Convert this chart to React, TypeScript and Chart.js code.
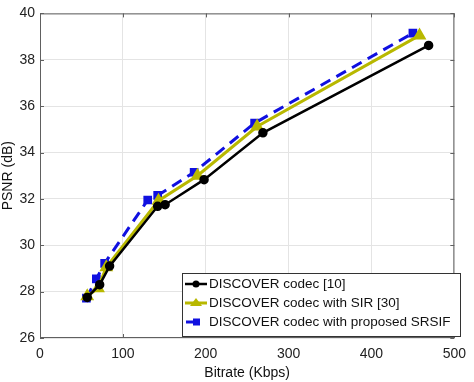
import React, { useEffect, useRef } from "react";
import { Chart, registerables } from "chart.js";

Chart.register(...registerables);

const xTicks = [0, 100, 200, 300, 400, 500];
const yTicks = [26, 28, 30, 32, 34, 36, 38, 40];

const discoverX = [57, 72, 84, 142, 151, 198, 269, 469];
const discoverY = [27.75, 28.3, 29.1, 31.68, 31.75, 32.83, 34.85, 38.62];

const sirX = [57, 70, 80, 143, 190, 262, 458];
const sirY = [27.8, 28.15, 29.05, 31.92, 33.0, 35.12, 39.05];

const srsifX = [56, 68, 78, 130, 142, 186, 259, 450];
const srsifY = [27.72, 28.55, 29.22, 31.95, 32.15, 33.15, 35.27, 39.15];

const legendLabels = [
  "DISCOVER codec [10]",
  "DISCOVER codec with SIR [30]",
  "DISCOVER codec with proposed SRSIF",
];

const FONT = "'Liberation Sans', Arial, sans-serif";

const boxPlugin = {
  id: "boxPlugin",
  afterDraw(chart: any) {
    const { ctx, chartArea } = chart;
    const { left, right, top, bottom } = chartArea;
    const xs = chart.scales.x;
    const ys = chart.scales.y;
    ctx.save();
    ctx.strokeStyle = "#606060";
    ctx.lineWidth = 1;
    ctx.strokeRect(left + 0.5, top + 0.5, right - left - 1, bottom - top - 1);
    const t = 4;
    ctx.beginPath();
    xTicks.forEach((v) => {
      const px = Math.round(xs.getPixelForValue(v)) + 0.5;
      ctx.moveTo(px, bottom);
      ctx.lineTo(px, bottom - t);
      ctx.moveTo(px, top);
      ctx.lineTo(px, top + t);
    });
    yTicks.forEach((v) => {
      const py = Math.round(ys.getPixelForValue(v)) + 0.5;
      ctx.moveTo(left, py);
      ctx.lineTo(left + t, py);
      ctx.moveTo(right, py);
      ctx.lineTo(right - t, py);
    });
    ctx.stroke();

    // legend box
    const bx = 182;
    const by = 273;
    const bw = 278;
    const bh = 63;
    ctx.fillStyle = "#ffffff";
    ctx.fillRect(bx, by, bw, bh);
    ctx.strokeStyle = "#333333";
    ctx.strokeRect(bx + 0.5, by + 0.5, bw, bh);
    ctx.font = `13.5px ${FONT}`;
    ctx.textBaseline = "middle";
    const rows = [by + 11, by + 30, by + 49];
    chart.data.datasets.forEach((ds: any, i: number) => {
      const y = rows[i];
      const x0 = bx + 3;
      const x1 = bx + 25;
      ctx.save();
      ctx.strokeStyle = ds.borderColor;
      ctx.lineWidth = ds.borderWidth;
      ctx.beginPath();
      if (i === 2) {
        ctx.moveTo(x0 + 1, y);
        ctx.lineTo(x0 + 8, y);
      } else {
        ctx.moveTo(x0, y);
        ctx.lineTo(x1, y);
      }
      ctx.stroke();
      ctx.fillStyle = ds.pointBackgroundColor;
      const cx = (x0 + x1) / 2;
      if (i === 0) {
        ctx.beginPath();
        ctx.arc(cx, y, 3.5, 0, Math.PI * 2);
        ctx.fill();
      } else if (i === 1) {
        ctx.beginPath();
        ctx.moveTo(cx, y - 5);
        ctx.lineTo(cx + 6, y + 3);
        ctx.lineTo(cx - 6, y + 3);
        ctx.closePath();
        ctx.fill();
      } else {
        ctx.fillRect(cx - 3, y - 3.5, 7, 7);
      }
      ctx.restore();
      ctx.fillStyle = "#111111";
      ctx.fillText(legendLabels[i], bx + 27, y);
    });
    ctx.restore();
  },
};

export default function App() {
  const ref = useRef<HTMLCanvasElement | null>(null);
  useEffect(() => {
    document.body.style.margin = "0";
    if (!ref.current) return;
    const toPts = (xs: number[], ys: number[]) => xs.map((x, i) => ({ x, y: ys[i] }));
    const chart = new Chart(ref.current, {
      type: "line",
      data: {
        datasets: [
          {
            label: legendLabels[0],
            data: toPts(discoverX, discoverY),
            borderColor: "#000000",
            backgroundColor: "#000000",
            pointBackgroundColor: "#000000",
            pointBorderColor: "#000000",
            borderWidth: 2.5,
            pointRadius: 3.5,
            pointStyle: "circle",
          },
          {
            label: legendLabels[1],
            data: toPts(sirX, sirY),
            borderColor: "#b8b800",
            backgroundColor: "#b8b800",
            pointBackgroundColor: "#b8b800",
            pointBorderColor: "#b8b800",
            borderWidth: 3,
            pointRadius: 5,
            pointStyle: "triangle",
          },
          {
            label: legendLabels[2],
            data: toPts(srsifX, srsifY),
            borderColor: "#1010e0",
            backgroundColor: "#1010e0",
            pointBackgroundColor: "#1010e0",
            pointBorderColor: "#1010e0",
            borderWidth: 3,
            borderDash: [11, 7],
            pointRadius: 4,
            pointStyle: "rect",
          },
        ],
      },
      options: {
        animation: false,
        responsive: false,
        maintainAspectRatio: false,
        layout: { padding: { top: 6, right: 12, left: 0, bottom: 0 } },
        plugins: {
          legend: { display: false },
          tooltip: { enabled: false },
        },
        scales: {
          x: {
            type: "linear",
            min: 0,
            max: 500,
            afterBuildTicks: (s: any) => {
              s.ticks = xTicks.map((v) => ({ value: v }));
            },
            afterFit: (s: any) => {
              s.height = 44;
            },
            grid: { color: "#e4e4e4", drawTicks: false },
            border: { display: false },
            ticks: {
              color: "#222222",
              font: { family: FONT, size: 14 },
              padding: 8,
            },
            title: {
              display: true,
              text: "Bitrate (Kbps)",
              color: "#111111",
              font: { family: FONT, size: 14 },
              padding: { top: 1, bottom: 0 },
            },
          },
          y: {
            type: "linear",
            min: 26,
            max: 40,
            afterBuildTicks: (s: any) => {
              s.ticks = yTicks.map((v) => ({ value: v }));
            },
            afterFit: (s: any) => {
              s.width = 40;
            },
            grid: { color: "#e4e4e4", drawTicks: false },
            border: { display: false },
            ticks: {
              color: "#222222",
              font: { family: FONT, size: 14 },
              padding: 5,
            },
            title: {
              display: true,
              text: "PSNR (dB)",
              color: "#111111",
              font: { family: FONT, size: 14 },
              padding: { top: 0, bottom: 0 },
            },
          },
        },
      },
      plugins: [boxPlugin],
    });
    return () => chart.destroy();
  }, []);
  return <canvas ref={ref} width={474} height={382} style={{ display: "block" }} />;
}
